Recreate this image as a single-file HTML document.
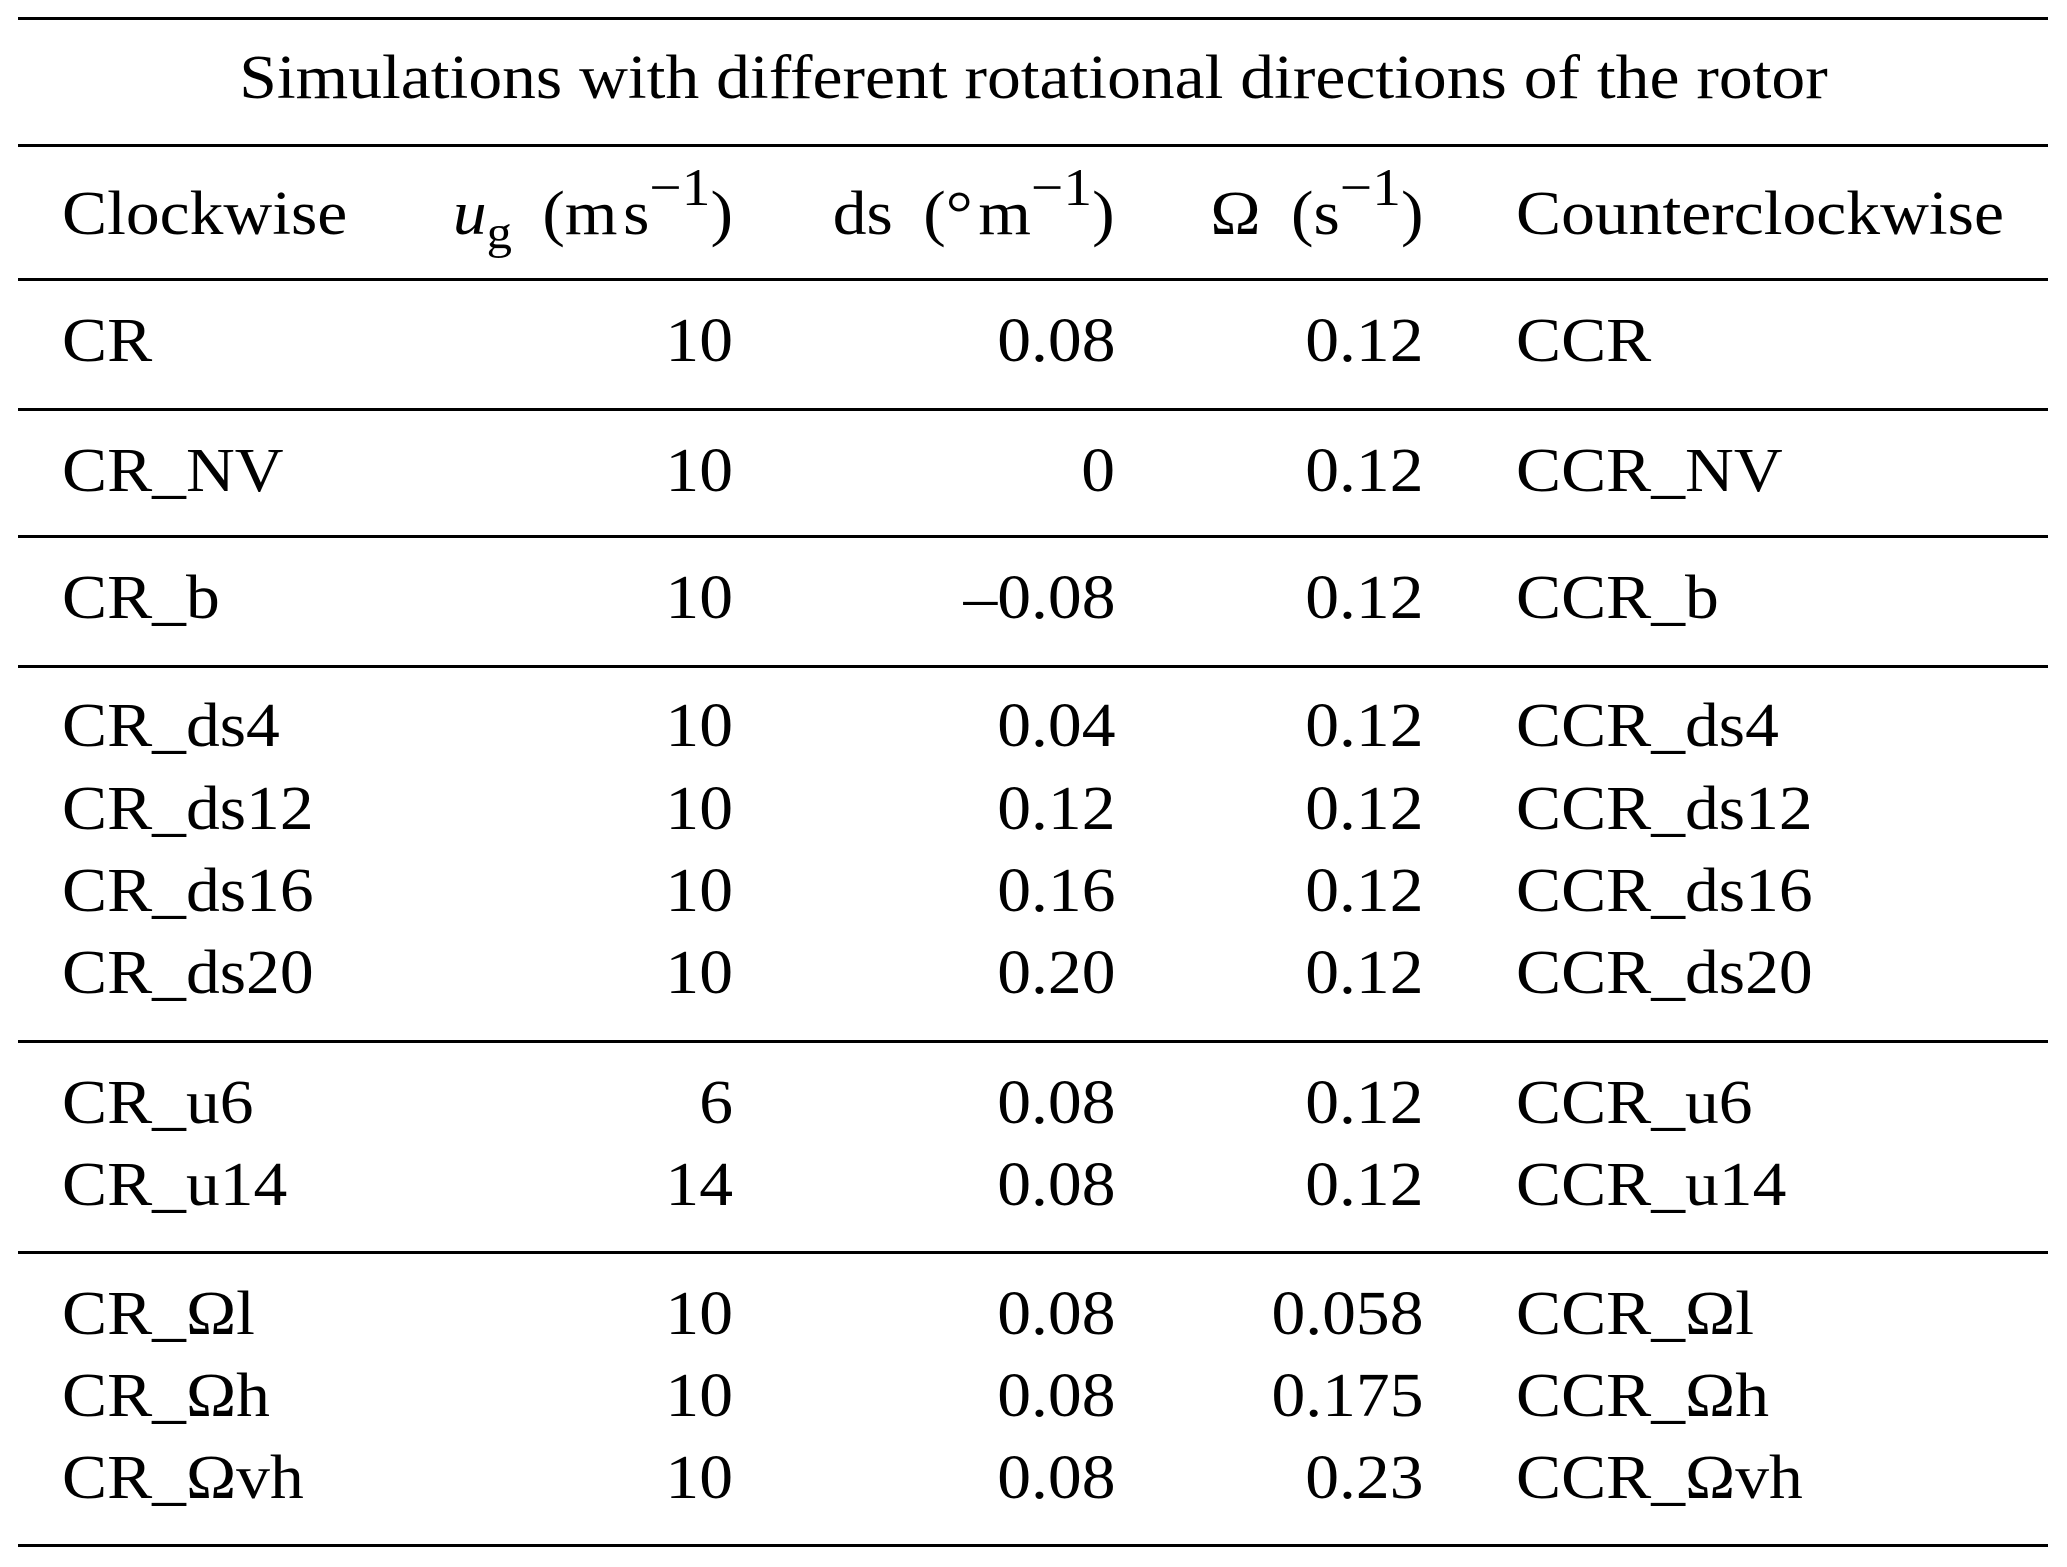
<!DOCTYPE html>
<html><head><meta charset="utf-8"><style>
html,body{margin:0;padding:0;background:#fff;}
#c{position:relative;width:2067px;height:1567px;overflow:hidden;font-family:"Liberation Serif","DejaVu Serif",serif;font-size:62px;color:#000;}
.r{position:absolute;left:18px;width:2030px;height:3px;background:#000;}
.t{position:absolute;line-height:1;white-space:nowrap;transform:scaleX(1.09);transform-origin:left;}
.R{text-align:right;transform-origin:right;}
.h{word-spacing:0.2em;}
sup{font-size:0.85em;vertical-align:0;position:relative;top:-0.55em;}
sub{font-size:0.75em;vertical-align:0;position:relative;top:0.3em;}
</style></head><body><div id="c">
<div class="r" style="top:17px"></div>
<div class="r" style="top:144px"></div>
<div class="r" style="top:278px"></div>
<div class="r" style="top:408px"></div>
<div class="r" style="top:535px"></div>
<div class="r" style="top:665px"></div>
<div class="r" style="top:1040px"></div>
<div class="r" style="top:1251px"></div>
<div class="r" style="top:1544px"></div>

<div class="t" style="left:0;width:2067px;text-align:center;transform-origin:center;top:47px">Simulations with different rotational directions of the rotor</div>

<div class="t" style="left:62px;top:183px">Clockwise</div>
<div class="t R h" style="right:1334px;top:183px"><i>u</i><sub>g</sub> (m&#8202;s<sup>−1</sup>)</div>
<div class="t R h" style="right:952px;top:183px">ds (°&#8202;m<sup>−1</sup>)</div>
<div class="t R h" style="right:644px;top:183px">Ω (s<sup>−1</sup>)</div>
<div class="t" style="left:1516px;top:183px">Counterclockwise</div>

<div id="rows"></div>
<script>
var rows=[
["CR","10","0.08","0.12","CCR",362],
["CR_NV","10","0","0.12","CCR_NV",492],
["CR_b","10","–0.08","0.12","CCR_b",619],
["CR_ds4","10","0.04","0.12","CCR_ds4",747],
["CR_ds12","10","0.12","0.12","CCR_ds12",830],
["CR_ds16","10","0.16","0.12","CCR_ds16",912],
["CR_ds20","10","0.20","0.12","CCR_ds20",994],
["CR_u6","6","0.08","0.12","CCR_u6",1124],
["CR_u14","14","0.08","0.12","CCR_u14",1206],
["CR_Ωl","10","0.08","0.058","CCR_Ωl",1335],
["CR_Ωh","10","0.08","0.175","CCR_Ωh",1417],
["CR_Ωvh","10","0.08","0.23","CCR_Ωvh",1499]];
var h="";
rows.forEach(function(r){var t=r[5]-52;
h+='<div class="t" style="left:62px;top:'+t+'px">'+r[0]+'</div>';
h+='<div class="t R" style="right:'+(2067-733)+'px;top:'+t+'px">'+r[1]+'</div>';
h+='<div class="t R" style="right:'+(2067-1115)+'px;top:'+t+'px">'+r[2]+'</div>';
h+='<div class="t R" style="right:'+(2067-1423)+'px;top:'+t+'px">'+r[3]+'</div>';
h+='<div class="t" style="left:1516px;top:'+t+'px">'+r[4]+'</div>';});
document.getElementById("rows").outerHTML=h;
</script>
</div></body></html>
